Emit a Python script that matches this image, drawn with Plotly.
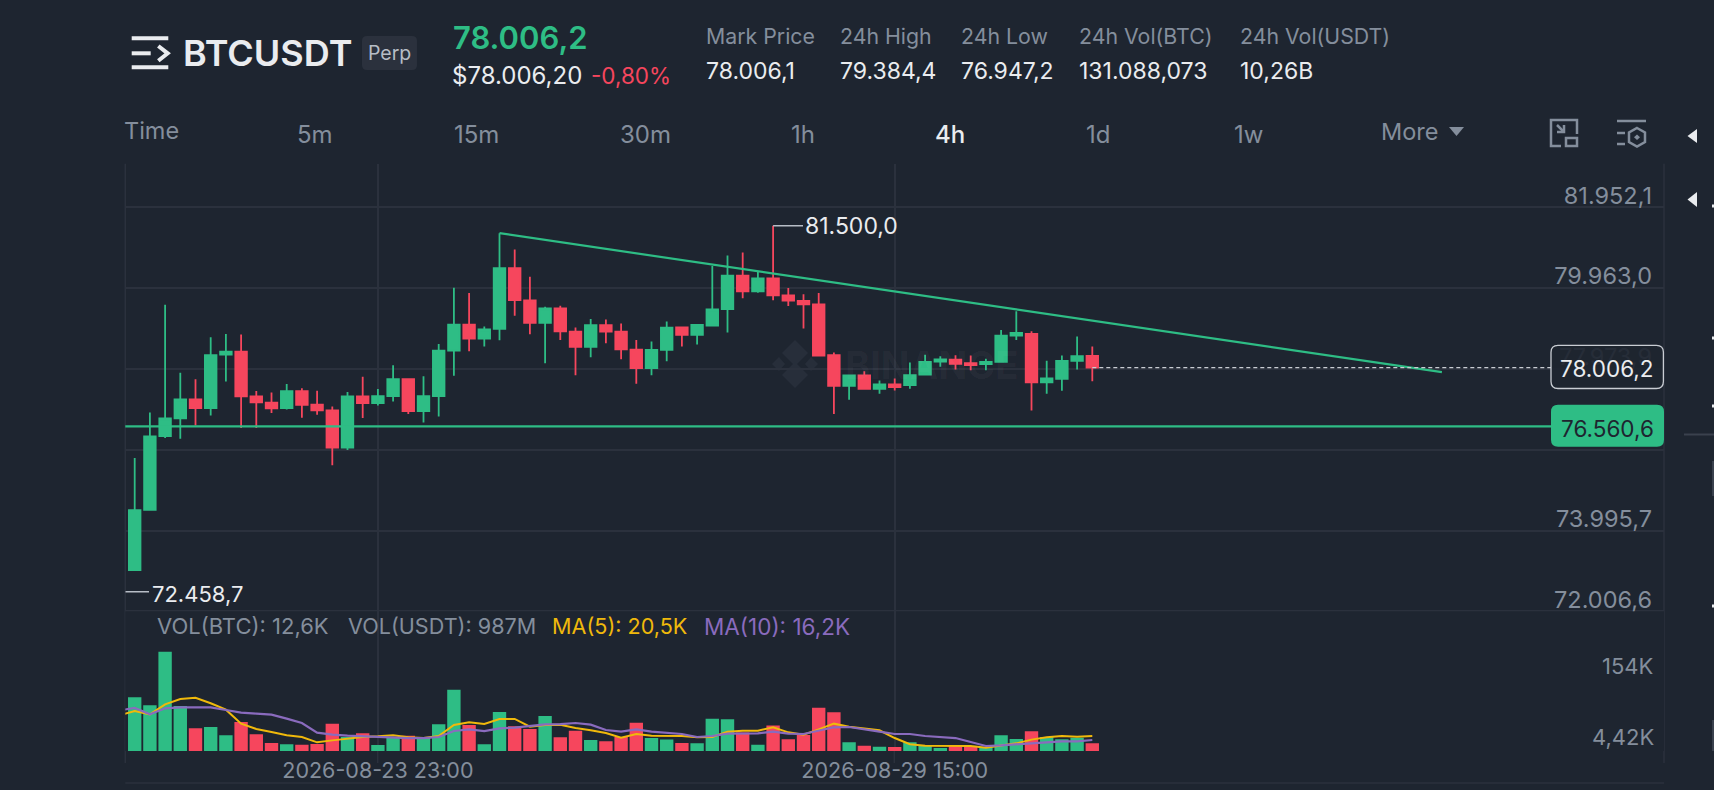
import pandas as pd
import plotly.graph_objects as go

W, H = 1714, 790

BG = '#1E2530'
GRID = '#2B313D'
GREEN = '#2EBD85'
RED = '#F6465D'
GREY = '#848E9C'
WHITE = '#EAECEF'
YELLOW = '#F0B90B'
PURPLE = '#8A6BBE'
FONT = 'Inter'

# 4h candles
start_time = '2026-08-21 07:00'
opens = [73024, 74506, 76323, 76757, 77224, 77011, 78329, 78403, 77298, 77142,
         77011, 77429, 77093, 76954, 76037, 77298, 77134, 77306, 77723, 76937,
         77306, 78427, 79066, 78722, 78960, 80458, 79664, 79107, 79467, 78894,
         78518, 79050, 78894, 78452, 77994, 78444, 79000, 78812, 79042, 79451,
         80270, 79885, 80204, 79786, 79647, 79566, 78313, 77560, 77813, 77486,
         77593, 77576, 77838, 78154, 78206, 78116, 78092, 78149, 78796, 78837,
         77642, 77732, 78174, 78296]
closes = [74498, 76315, 76757, 77224, 77011, 78313, 78403, 77298, 77150, 77003,
          77429, 77093, 76954, 76037, 77298, 77134, 77306, 77723, 76937, 77306,
          78427, 79066, 78722, 78951, 80458, 79672, 79107, 79467, 78902, 78518,
          79050, 78894, 78460, 77994, 78444, 78992, 78812, 79058, 79443, 80270,
          79885, 80204, 79786, 79655, 79566, 78305, 77560, 77813, 77486, 77593,
          77527, 77822, 78149, 78211, 78100, 78067, 78149, 78796, 78861, 77642,
          77740, 78174, 78288, 78006.2]
highs = [75783, 76905, 79557, 77879, 77723, 78755, 78837, 78820, 77429, 77396,
         77601, 77502, 77437, 77052, 77404, 77781, 77478, 78067, 77723, 77797,
         78591, 79975, 79844, 79017, 81318, 80916, 80245, 79507, 79533, 78992,
         79205, 79189, 79091, 78689, 78649, 79140, 79000, 79075, 80507, 80769,
         80843, 80376, 81500, 79967, 79811, 79844, 78378, 77830, 77920, 77691,
         77740, 78133, 78321, 78288, 78313, 78305, 78223, 78935, 79393, 78902,
         78174, 78305, 78771, 78526]
lows = [73024, 74506, 76274, 76258, 76585, 76831, 77666, 76520, 76520, 76888,
        76978, 76773, 76847, 75603, 75980, 76765, 77076, 77175, 76864, 76659,
        76806, 77805, 78411, 78526, 78681, 79287, 78829, 78116, 78689, 77822,
        78264, 78608, 78215, 77609, 77822, 78165, 78526, 78575, 79017, 78870,
        79713, 79852, 79664, 79525, 78968, 78280, 76864, 77216, 77486, 77363,
        77445, 77486, 77838, 78026, 77961, 77944, 77944, 78149, 78689, 76954,
        77363, 77437, 77961, 77674]

# volume in thousands of BTC
volumes = [61.9, 53.3, 110.8, 52.6, 28.7, 30.1, 21.2, 35.5, 22.3, 13.0,
           11.6, 11.2, 11.9, 33.7, 19.4, 23.3, 10.8, 18.7, 20.8, 18.7,
           33.0, 70.1, 32.3, 11.6, 46.2, 30.8, 28.0, 41.9, 19.1, 26.2,
           16.2, 14.8, 19.4, 34.8, 18.3, 16.6, 13.0, 12.6, 39.0, 38.3,
           24.1, 11.2, 31.6, 16.9, 21.6, 50.8, 45.8, 13.7, 10.1, 9.1,
           8.7, 13.7, 9.8, 7.6, 9.8, 8.7, 8.7, 21.2, 17.3, 25.5,
           19.4, 16.9, 18.7, 12.6]
# both averages start one candle before the first visible one
ma5 = [42.6,
       47.3, 43.7, 54.4, 60.1, 61.5, 55.5, 48.7, 33.7, 28.0, 24.8,
       21.2, 19.4, 13.7, 15.8, 18.0, 19.4, 20.1, 21.2, 19.1, 18.3,
       20.5, 32.3, 35.1, 33.3, 38.7, 38.7, 30.5, 32.3, 32.6, 29.1,
       26.6, 23.7, 18.7, 22.6, 20.8, 20.8, 20.5, 19.1, 19.4, 25.1,
       26.2, 26.2, 29.8, 24.4, 21.9, 27.6, 33.7, 30.5, 28.7, 26.6,
       18.3, 11.6, 10.1, 9.8, 9.8, 9.8, 8.0, 10.5, 12.6, 16.6,
       19.1, 20.5, 19.8, 20.5]
ma10 = [47.9,
        50.5, 43.7, 50.1, 51.2, 50.8, 51.2, 48.3, 45.5, 44.4, 43.3,
        39.1, 34.4, 24.1, 21.9, 20.8, 20.1, 19.8, 18.7, 18.3, 18.3,
        19.4, 25.8, 27.6, 25.8, 28.7, 29.4, 31.2, 33.0, 33.3, 34.4,
        32.6, 26.9, 25.1, 27.6, 25.1, 24.1, 22.6, 19.4, 20.5, 23.0,
        23.3, 23.3, 25.1, 23.0, 22.6, 26.2, 29.8, 30.1, 28.0, 25.1,
        22.6, 22.6, 20.5, 19.4, 18.3, 14.0, 9.8, 10.5, 11.6, 13.0,
        14.0, 14.8, 14.8, 16.2]

price_ticks = [81952.1, 79963.0, 77973.9, 75984.8, 73995.7, 72006.6]
price_labels = ['81.952,1', '79.963,0', '77.973,9', '', '73.995,7', '72.006,6']
price_top, price_bottom = 83027.8, 71645.6
vol_min, vol_max = 4.42, 154.0
time_ticks = ['2026-08-23 23:00', '2026-08-29 15:00']

last_price = 78006.2
level_price = 76560.6
high_label = 81500.0
low_price = 72486
trend_prices = [81318, 77895]

header_labels = ['Mark Price', '24h High', '24h Low', '24h Vol(BTC)', '24h Vol(USDT)']
header_values = ['78.006,1', '79.384,4', '76.947,2', '131.088,073', '10,26B']
header_x = [704, 838, 959, 1077, 1238]
timeframes = ['5m', '15m', '30m', '1h', '4h', '1d', '1w']
timeframe_x = [315, 476, 645, 803, 950, 1098, 1248]

# pixel layout of the two panes, the price pane runs on under the volume pane
PLOT_L, PLOT_R = 125.3, 1664
PRICE_T, PRICE_B = 163.7, 626
VOL_T, VOL_B = 611.3, 751
FRAME_B = 763
CANDLE_0, CANDLE_STEP = 134.7, 15.2


def px(x):
    return x / W


def py(y):
    return 1 - y / H


def candle_time(i):
    return pd.Timestamp(start_time) + pd.Timedelta(hours=4) * i


def x_at(pixel):
    return candle_time((pixel - CANDLE_0) / CANDLE_STEP)


def path_of(points, closed=False):
    s = 'M ' + ' L '.join(f'{px(a):.5f} {py(b):.5f}' for a, b in points)
    return s + (' Z' if closed else '')


def rounded(x0, y0, x1, y1, r):
    return (f'M {px(x0 + r):.5f} {py(y0):.5f} L {px(x1 - r):.5f} {py(y0):.5f} '
            f'Q {px(x1):.5f} {py(y0):.5f} {px(x1):.5f} {py(y0 + r):.5f} '
            f'L {px(x1):.5f} {py(y1 - r):.5f} '
            f'Q {px(x1):.5f} {py(y1):.5f} {px(x1 - r):.5f} {py(y1):.5f} '
            f'L {px(x0 + r):.5f} {py(y1):.5f} '
            f'Q {px(x0):.5f} {py(y1):.5f} {px(x0):.5f} {py(y1 - r):.5f} '
            f'L {px(x0):.5f} {py(y0 + r):.5f} '
            f'Q {px(x0):.5f} {py(y0):.5f} {px(x0 + r):.5f} {py(y0):.5f} Z')


def text(s, x, y, size, color, anchor='left', weight=400):
    return dict(text=s, x=px(x), y=py(y), xref='paper', yref='paper', showarrow=False,
                xanchor=anchor, yanchor='middle', align=anchor,
                font=dict(family=FONT, size=size, color=color, weight=weight))


def line_shape(points, color, width, layer='above', closed=False, fill=None):
    shape = dict(type='path', path=path_of(points, closed), xref='paper', yref='paper',
                 line=dict(color=color, width=width), layer=layer)
    if fill:
        shape['fillcolor'] = fill
    return shape


dates = [candle_time(i) for i in range(len(opens))]
ma_dates = [candle_time(i - 1) for i in range(len(ma5))]
bar_colors = [GREEN if c >= o else RED for o, c in zip(opens, closes)]

fig = go.Figure()
fig.add_trace(go.Candlestick(x=dates, open=opens, high=highs, low=lows, close=closes,
                             increasing=dict(line=dict(color=GREEN, width=1.8), fillcolor=GREEN),
                             decreasing=dict(line=dict(color=RED, width=1.8), fillcolor=RED)))
# trend line drawn on the chart
fig.add_trace(go.Scatter(x=[dates[24], candle_time(86)], y=trend_prices, mode='lines',
                         line=dict(color=GREEN, width=2.2)))
# last price dashes
fig.add_trace(go.Scatter(x=[dates[-1], x_at(1551)], y=[last_price, last_price], mode='lines',
                         line=dict(color='#C9CDD3', width=1.2, dash='4px,3px')))
# high and low leaders
fig.add_trace(go.Scatter(x=[dates[42], x_at(803)], y=[high_label, high_label], mode='lines',
                         line=dict(color='#B7BDC6', width=1.5)))
fig.add_trace(go.Scatter(x=[x_at(PLOT_L), x_at(149)], y=[low_price, low_price], mode='lines',
                         line=dict(color='#B7BDC6', width=1.5)))

fig.add_trace(go.Bar(x=dates, y=volumes, marker=dict(color=bar_colors, line_width=0),
                     xaxis='x2', yaxis='y2'))
fig.add_trace(go.Scatter(x=ma_dates, y=ma5, mode='lines', line=dict(color=YELLOW, width=2),
                         xaxis='x2', yaxis='y2'))
fig.add_trace(go.Scatter(x=ma_dates, y=ma10, mode='lines', line=dict(color=PURPLE, width=2.2),
                         xaxis='x2', yaxis='y2'))

time_range = [x_at(PLOT_L), x_at(PLOT_R)]

annotations = [
    text('BINANCE', 931, 365, 38, 'rgba(255,255,255,0.045)', 'center', 700),
    text('BTCUSDT', 181, 53, 36, WHITE, weight=600),
    text('Perp', 389.5, 53, 19.5, '#B7BDC6', 'center'),
    text('78.006,2', 451, 37, 31, GREEN, weight=600),
    text('$78.006,20', 450, 75, 24, WHITE),
    text('-0,80%', 589, 75, 22.5, RED),
    text('Time', 122, 130, 23.5, GREY),
    text('More', 1379, 131, 23.5, GREY),
    text('81.500,0', 803, 226, 23, WHITE),
    text('72.458,7', 150, 594, 22, WHITE),
    text('VOL(BTC): 12,6K', 155, 626, 22, GREY),
    text('VOL(USDT): 987M', 346, 626, 21.6, GREY),
    text('MA(5): 20,5K', 550, 626, 21.6, YELLOW),
    text('MA(10): 16,2K', 702, 626, 22.5, PURPLE),
    text('154K', 1656, 666, 22, GREY, 'right'),
    text('4,42K', 1656, 737, 22, GREY, 'right'),
    text('78.006,2', 1656, 368, 22.5, WHITE, 'right'),
    text('76.560,6', 1656, 428, 22.5, '#1E2530', 'right'),
]
for label, value, x in zip(header_labels, header_values, header_x):
    annotations.append(text(label, x, 36, 21.3, GREY))
    annotations.append(text(value, x, 71, 23, WHITE))
for label, x in zip(timeframes, timeframe_x):
    annotations.append(text(label, x, 134, 24, WHITE if label == '4h' else GREY, 'center',
                            500 if label == '4h' else 400))

shapes = [
    # pane frame
    line_shape([(PLOT_L, PRICE_T), (PLOT_L, FRAME_B)], GRID, 1.5, 'below'),
    line_shape([(PLOT_R, PRICE_T), (PLOT_R, FRAME_B)], GRID, 1.5, 'below'),
    line_shape([(377.7, VOL_B), (377.7, FRAME_B)], GRID, 1.5, 'below'),
    line_shape([(894.3, VOL_B), (894.3, FRAME_B)], GRID, 1.5, 'below'),
    line_shape([(PLOT_L, 783), (PLOT_R, 783)], GRID, 1.5, 'below'),
    line_shape([(1684, 434.5), (W, 434.5)], '#3A414D', 2, 'below'),
    # horizontal price level
    dict(type='line', xref='paper', yref='y', x0=px(PLOT_L), x1=px(1551), y0=level_price, y1=level_price,
         line=dict(color=GREEN, width=2.4), layer='above'),
    # price boxes
    dict(type='path', path=rounded(1551, 345.3, 1663.4, 388.5, 7), xref='paper', yref='paper',
         fillcolor='rgba(30,37,48,0.92)', line=dict(color='#C9CDD3', width=1.3), layer='above'),
    dict(type='path', path=rounded(1551, 404.7, 1664, 446.7, 7), xref='paper', yref='paper',
         fillcolor=GREEN, line=dict(color=GREEN, width=0), layer='above'),
    # badge
    dict(type='path', path=rounded(362, 36, 417, 70, 5), xref='paper', yref='paper',
         fillcolor='#2B313D', line=dict(width=0), layer='below'),
    # menu icon
    line_shape([(131.7, 38.3), (168.3, 38.3)], WHITE, 4),
    line_shape([(131.7, 53.3), (150.7, 53.3)], WHITE, 4),
    line_shape([(158.3, 46), (167.7, 53.3), (158.3, 60.7)], WHITE, 4),
    line_shape([(131.7, 67.3), (168.3, 67.3)], WHITE, 4),
    # dropdown triangle
    line_shape([(1449, 127), (1464, 127), (1456.5, 136)], GREY, 0, closed=True, fill=GREY),
    # first toolbar icon
    line_shape([(1566, 120), (1551, 120), (1551, 146), (1561, 146)], GREY, 2.5),
    line_shape([(1566, 120), (1577, 120), (1577, 134)], GREY, 2.5),
    line_shape([(1566, 138), (1577, 138), (1577, 146), (1566, 146)], GREY, 2.5, closed=True),
    line_shape([(1557, 125), (1564, 132)], GREY, 2.5),
    line_shape([(1557, 132), (1564, 132), (1564, 125)], GREY, 2.5),
    # second toolbar icon
    line_shape([(1617, 121), (1646, 121)], GREY, 2.5),
    line_shape([(1617, 133), (1625, 133)], GREY, 2.5),
    line_shape([(1617, 144), (1625, 144)], GREY, 2.5),
    line_shape([(1637, 128), (1645, 132.5), (1645, 142), (1637, 146.5), (1629, 142), (1629, 132.5)],
               GREY, 2.5, closed=True),
    line_shape([(1637, 134.5), (1640, 137.3), (1637, 140), (1634, 137.3)], GREY, 0, closed=True, fill=GREY),
    # side arrows
    line_shape([(1697, 129), (1697, 143), (1687.5, 136)], WHITE, 0, closed=True, fill=WHITE),
    line_shape([(1697, 192), (1697, 207), (1687.5, 199.5)], WHITE, 0, closed=True, fill=WHITE),
    # marks cut off at the right edge
    line_shape([(1713, 461), (1713, 496)], '#3A414D', 2),
    line_shape([(1713, 720), (1713, 751)], '#3A414D', 2),
    line_shape([(1712, 206), (W, 206)], WHITE, 3),
    line_shape([(1712, 338), (W, 338)], WHITE, 3),
    line_shape([(1712, 406), (W, 406)], WHITE, 3),
    line_shape([(1712, 606), (W, 606)], WHITE, 3),
    # watermark logo
    line_shape([(795, 340), (808, 353), (795, 366), (782, 353)], '#272E3A', 0, 'below', True, '#272E3A'),
    line_shape([(795, 362), (808, 375), (795, 388), (782, 375)], '#272E3A', 0, 'below', True, '#272E3A'),
    line_shape([(779, 357), (785, 364), (779, 371), (772, 364)], '#272E3A', 0, 'below', True, '#272E3A'),
    line_shape([(811, 357), (818, 364), (811, 371), (805, 364)], '#272E3A', 0, 'below', True, '#272E3A'),
]

axis_common = dict(showgrid=True, gridcolor=GRID, gridwidth=1.5, zeroline=False, showline=False, ticks='')

fig.update_layout(
    width=W, height=H,
    margin=dict(l=0, r=0, t=0, b=0),
    paper_bgcolor=BG, plot_bgcolor=BG,
    showlegend=False,
    bargap=0.12, boxgap=0.24, boxgroupgap=0,
    font=dict(family=FONT, color=GREY),
    annotations=annotations,
    shapes=shapes,
    xaxis=dict(domain=[px(PLOT_L), px(PLOT_R)], anchor='y', range=time_range, type='date',
               tickvals=time_ticks, showticklabels=False, rangeslider=dict(visible=False), **axis_common),
    yaxis=dict(domain=[py(PRICE_B), py(PRICE_T)], anchor='x', range=[price_bottom, price_top], side='right',
               tickvals=price_ticks, ticktext=price_labels, ticklabelposition='inside',
               ticklabelstandoff=9, ticklabelshift=-12, tickfont=dict(size=23.5, color=GREY), **axis_common),
    xaxis2=dict(domain=[px(PLOT_L), px(PLOT_R)], anchor='y2', range=time_range, type='date',
                tickvals=time_ticks, ticktext=time_ticks, ticklabelstandoff=4,
                tickfont=dict(size=21.5, color=GREY), **axis_common),
    yaxis2=dict(domain=[py(VOL_B), py(VOL_T)], anchor='x2', range=[vol_min, vol_max], side='right',
                tickvals=[vol_min], showticklabels=False, **axis_common),
)

fig.write_html("out.html", config={'displayModeBar': False},
               post_script="document.body.style.margin='0';document.body.style.background='#1E2530';")
